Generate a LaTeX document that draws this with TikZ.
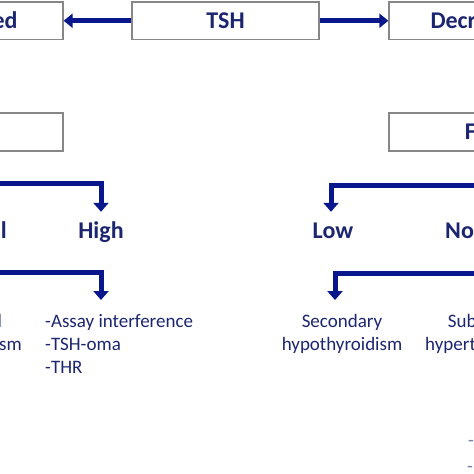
\documentclass[tikz,border=0pt]{standalone}
\usepackage{fontspec}
\setmainfont{Carlito}
\usetikzlibrary{arrows.meta,calc}
\definecolor{arrowc}{RGB}{8,24,140}
\definecolor{txtc}{RGB}{28,38,112}
\definecolor{boxc}{RGB}{135,135,135}
\begin{document}
\begin{tikzpicture}[x=1pt,y=-1pt,
  box/.style={draw=boxc,line width=1.3pt,fill=white,minimum width=187pt,
    text=txtc,font=\fontsize{24}{28}\selectfont\bfseries,text height=15.5pt,text depth=0pt,inner sep=0pt},
  lab/.style={text=txtc,font=\fontsize{24}{28}\selectfont\bfseries,inner sep=0pt,text height=17pt,text depth=5pt},
  body/.style={text=txtc,font=\fontsize{19}{23}\selectfont,inner sep=0pt},
  bigarrow/.style={draw=arrowc,line width=5pt,-{Triangle[length=9pt,width=14pt]}},
  conn/.style={draw=arrowc,line width=5pt,-{Triangle[length=9pt,width=15pt]}}]
\useasboundingbox (0,0) rectangle (474,474);
\fill[white] (0,0) rectangle (474,474);
\clip (0,0) rectangle (474,474);
% top row
\node[box,minimum height=37.5pt] (tsh) at (225.5,20.75) {TSH};
\node[box,minimum height=37.5pt] (inc) at (-30.5,20.75) {Increased};
\node[box,minimum height=37.5pt] (dec) at (482.5,20.75) {Decreased};
\draw[bigarrow] (tsh.west) -- (inc.east);
\draw[bigarrow] (tsh.east) -- (dec.west);
% second row
\node[box,minimum height=38pt] (ftl) at (-30.5,132) {};
\node[box,minimum height=38pt] (ftr) at (482.5,132) {FT4};
% third row labels
\node[lab,anchor=base] (high) at (101,238) {High};
\node[lab,anchor=base east] (norl) at (7,238) {Normal};
\node[lab,anchor=base] (low) at (333,238) {Low};
\node[lab,anchor=base west] (norr) at (445,238) {Normal};
\coordinate (lc1) at (-5,183.5);
\coordinate (rc1) at (480,185);
\draw[conn] (lc1) -| ($(high.north)+(0,-9)$);
\draw[conn] (rc1) -| ($(low.north)+(-2,-9)$);
% fourth row
\node[body,align=left,anchor=north west] (list) at (45,314) {-Assay interference\\-TSH-oma\\-THR};
\node[body,align=center,anchor=north] (sec) at (342,314) {Secondary\\hypothyroidism};
\node[body,align=center,anchor=north east] (subl) at (22,314) {Subclinical\\hypothyroidism};
\node[body,align=center,anchor=north west] (subr) at (425,314) {Subclinical\\hyperthyroidism};
\coordinate (lc2) at (-5,272.5);
\coordinate (rc2) at (480,273);
\draw[conn] (lc2) -| ($(high.center |- list.north)+(0,-14)$);
\draw[conn] (rc2) -| ($(sec.north)+(-7,-14)$);
% bottom-right fragments
\node[body,text=txtc!60,anchor=base west] (d1) at (468,446) {-};
\node[body,text=txtc!60,anchor=base west] (d2) at (467,472) {-};
\end{tikzpicture}
\end{document}
